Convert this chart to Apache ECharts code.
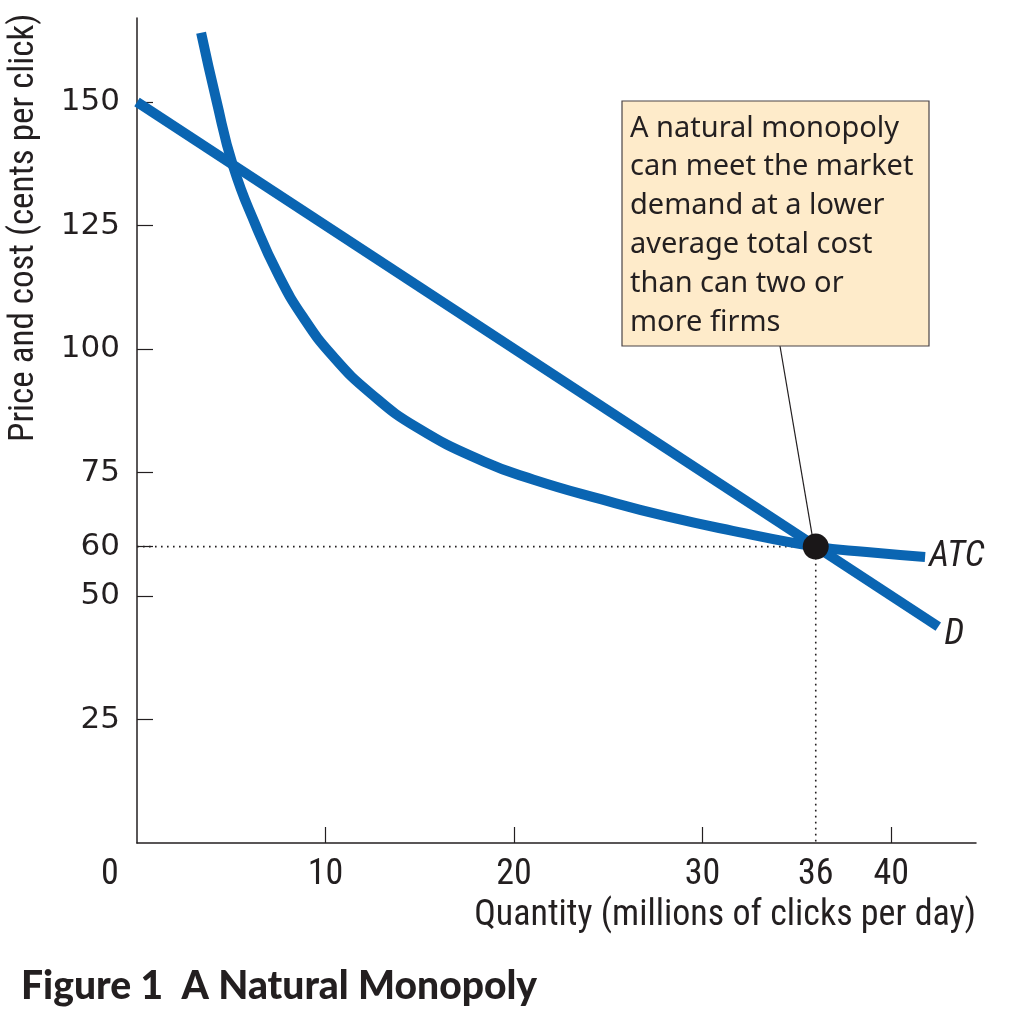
<!DOCTYPE html>
<html>
<head>
<meta charset="utf-8">
<script src="https://cdn.jsdelivr.net/npm/echarts@6/dist/echarts.min.js"></script>
<style>
  html, body { margin: 0; padding: 0; background: #fff; }
  #chart { width: 1022px; height: 1024px; }
</style>
</head>
<body>
<div id="chart"></div>
<script>
// values
const demandPoints = [[0, 150], [42.5, 43.8]];
const atcPoints = [
  [3.4, 164], [4.2, 150.5], [5.1, 137], [6.3, 125], [7.5, 115], [8.8, 106.5],
  [10.4, 98.5], [12.4, 91], [14.9, 84], [18.4, 77.2], [21, 73.6], [24.6, 69.6],
  [28.1, 66.1], [31.6, 63.2], [36, 60], [38.7, 58.9], [41.8, 57.9]
];
const equilibrium = [36, 60];
const xLabels = [10, 20, 30, 36, 40];
const xTicks = [10, 20, 30, 40];
const yLabels = [25, 50, 60, 75, 100, 125, 150];

const blue = '#0a65b2';
const ink = '#231f20';
const narrow = "'Liberation Sans Narrow', 'Roboto Condensed', 'Liberation Sans', sans-serif";

const chart = echarts.init(document.getElementById('chart'));

const option = {
  animation: false,
  backgroundColor: '#fff',
  title: {
    text: 'Figure 1  A Natural Monopoly',
    left: 16,
    top: 962,
    textStyle: { fontFamily: 'Lato', fontWeight: 900, fontSize: 39, color: ink }
  },
  grid: { left: 137, right: 46, top: 18, bottom: 181 },
  xAxis: {
    type: 'value',
    min: 0,
    max: 44.5,
    name: 'Quantity (millions of clicks per day)',
    nameLocation: 'end',
    nameGap: 0,
    nameTextStyle: {
      fontFamily: narrow, fontSize: 36, color: ink,
      align: 'right', verticalAlign: 'top', padding: [55, 0, 0, 0]
    },
    splitLine: { show: false },
    axisLine: { lineStyle: { color: ink, width: 1.5 } },
    axisTick: { inside: true, length: 16, customValues: xTicks, lineStyle: { color: ink, width: 1.2 } },
    axisLabel: { customValues: xLabels, margin: 14, fontFamily: narrow, fontSize: 36, color: ink }
  },
  yAxis: {
    type: 'value',
    min: 0,
    max: 167,
    splitLine: { show: false },
    axisLine: { lineStyle: { color: ink, width: 1.5 } },
    axisTick: { inside: true, length: 16, customValues: yLabels, lineStyle: { color: ink, width: 1.2 } },
    axisLabel: { customValues: yLabels, margin: 17, fontFamily: 'DejaVu Sans', fontSize: 31, color: ink }
  },
  series: [
    {
      name: 'guide',
      type: 'line',
      data: [[0, equilibrium[1]], equilibrium, [equilibrium[0], 0]],
      symbol: 'none',
      z: 1,
      lineStyle: { color: ink, width: 1.6, type: [1.6, 4.4] },
      silent: true
    },
    {
      name: 'ATC',
      type: 'line',
      data: atcPoints,
      smooth: 0.5,
      symbol: 'none',
      z: 3,
      lineStyle: { color: blue, width: 10, cap: 'butt' },
      endLabel: {
        show: true, formatter: 'ATC', distance: 4,
        fontFamily: narrow, fontStyle: 'italic', fontSize: 36, color: ink
      }
    },
    {
      name: 'D',
      type: 'line',
      data: demandPoints,
      symbol: 'none',
      z: 3,
      lineStyle: { color: blue, width: 10, cap: 'butt' },
      endLabel: {
        show: true, formatter: 'D', distance: 6, offset: [0, 8],
        fontFamily: narrow, fontStyle: 'italic', fontSize: 36, color: ink
      }
    },
    {
      name: 'point',
      type: 'scatter',
      data: [equilibrium],
      symbolSize: 26,
      z: 5,
      itemStyle: { color: '#1a1718', opacity: 1 }
    }
  ]
};

chart.setOption(option);

// annotation box, leader line and axis-side texts
const dot = chart.convertToPixel({ gridIndex: 0 }, equilibrium);
const origin = chart.convertToPixel({ gridIndex: 0 }, [0, 0]);
const box = { x: 622, y: 101, w: 307, h: 245 };

chart.setOption({
  graphic: [
    {
      type: 'line',
      z: 4,
      shape: { x1: 780, y1: box.y + box.h, x2: dot[0] - 3, y2: dot[1] - 8 },
      style: { stroke: ink, lineWidth: 1.2 }
    },
    {
      type: 'rect',
      z: 6,
      shape: { x: box.x, y: box.y, width: box.w, height: box.h },
      style: { fill: '#feebca', stroke: '#4a4446', lineWidth: 1.2 }
    },
    {
      type: 'text',
      z: 7,
      left: box.x + 8,
      top: box.y + 8,
      style: {
        text: 'A natural monopoly\ncan meet the market\ndemand at a lower\naverage total cost\nthan can two or\nmore firms',
        font: "29px 'Noto Sans', sans-serif",
        lineHeight: 38.8,
        fill: ink
      }
    },
    {
      type: 'text',
      left: origin[0] - 36,
      top: origin[1] + 14,
      style: { text: '0', font: "36px " + narrow, fill: ink }
    },
    {
      type: 'text',
      x: 7,
      y: 442,
      rotation: Math.PI / 2,
      style: {
        text: 'Price and cost (cents per click)',
        font: "35px " + narrow,
        fill: ink,
        align: 'left',
        verticalAlign: 'top'
      }
    }
  ]
});
</script>
</body>
</html>
